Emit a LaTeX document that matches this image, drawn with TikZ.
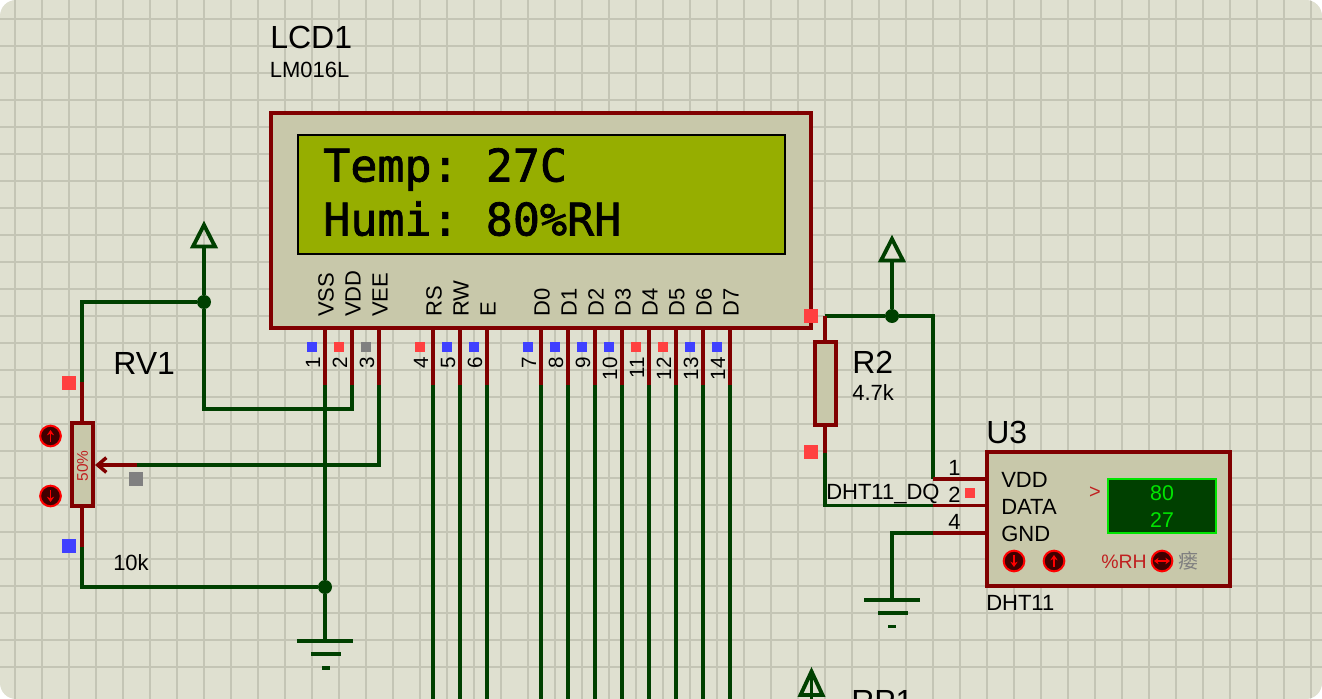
\documentclass[tikz,border=0pt]{standalone}
\usepackage{fontspec}
\setmainfont{Liberation Sans}
\newfontfamily\lcdfont[FakeBold=1.6]{DejaVu Sans Mono}
\newfontfamily\cjkfont{Noto Sans CJK SC}
\usepackage{tikz}
\usetikzlibrary{calc, positioning, arrows.meta}

\definecolor{sheet}{RGB}{223,224,208}
\definecolor{gridline}{RGB}{196,197,181}
\definecolor{wirecol}{RGB}{0,64,0}
\definecolor{pincol}{RGB}{128,0,0}
\definecolor{bodycol}{RGB}{200,200,170}
\definecolor{lcdcol}{RGB}{150,174,0}
\definecolor{knobcol}{RGB}{64,0,0}
\definecolor{redmark}{RGB}{255,64,64}
\definecolor{bluemark}{RGB}{64,64,255}
\definecolor{greymark}{RGB}{128,128,128}
\definecolor{redtext}{RGB}{192,32,32}

\begin{document}
\begin{tikzpicture}[x=0.75pt, y=-0.75pt]
    \tikzstyle{body} = [rectangle, draw=pincol, fill=bodycol, line width=3pt, inner sep=0]
    \tikzstyle{lcd_screen} = [rectangle, draw=black, fill=lcdcol, line width=2.1pt, inner sep=0]
    \tikzstyle{meter_screen} = [rectangle, draw=green!90!black, fill=wirecol, line width=2pt, inner sep=0]
    \tikzstyle{big_label} = [anchor=base west, inner sep=0, font=\fontsize{24}{28}\selectfont]
    \tikzstyle{small_label} = [anchor=base west, inner sep=0, font=\fontsize{16.5}{19}\selectfont]
    \tikzstyle{pin_name} = [rotate=90, anchor=west, inner sep=0, font=\fontsize{16.5}{19}\selectfont]
    \tikzstyle{pin_num} = [rotate=90, anchor=east, inner sep=0, font=\fontsize{15.5}{18}\selectfont]
    \tikzstyle{lcd_text} = [anchor=base west, inner sep=0, font=\lcdfont\frenchspacing\fontsize{33.75}{36}\selectfont]
    \tikzstyle{mark_blue} = [rectangle, fill=bluemark, minimum size=7.5pt, inner sep=0]
    \tikzstyle{mark_red} = [rectangle, fill=redmark, minimum size=7.5pt, inner sep=0]
    \tikzstyle{mark_grey} = [rectangle, fill=greymark, minimum size=7.5pt, inner sep=0]
    \tikzstyle{knob} = [circle, draw=red, fill=knobcol, line width=1.5pt, minimum size=15.5pt, inner sep=0]
    \tikzstyle{knob_arrow} = [draw, red, line width=1.4pt, -{Stealth[length=4pt, width=5.5pt]}]
    \tikzstyle{junction} = [circle, fill=wirecol, minimum size=10.5pt, inner sep=0]
    \tikzstyle{wire} = [draw, wirecol, line width=2.6pt, line join=miter]
    \tikzstyle{pinline} = [draw, pincol, line width=2.6pt]
    \tikzstyle{terminal} = [draw, wirecol, line width=2.9pt, line join=miter]

    \useasboundingbox (0,0) rectangle (1322,699);
    \path [fill=white] (0,0) rectangle (1322,699);
    \path [clip, rounded corners=12pt] (0,0) rectangle (1322,699);
    \path [fill=sheet] (0,0) rectangle (1322,699);

    % sheet grid
    \foreach \gx in {15,42,...,1320} \draw [gridline, line width=0.8pt] (\gx,0) -- (\gx,699);
    \foreach \gy in {19,46,...,690} \draw [gridline, line width=0.8pt] (0,\gy) -- (1322,\gy);
    \foreach \gx in {96,231,...,1320} \draw [gridline, line width=1.3pt] (\gx,0) -- (\gx,699);
    \foreach \gy in {73,208,...,690} \draw [gridline, line width=1.3pt] (0,\gy) -- (1322,\gy);

    % pin points of the display
    \coordinate (pin1) at (325,328);   \coordinate (pin1e) at (325,385);
    \coordinate (pin2) at (352,328);   \coordinate (pin2e) at (352,385);
    \coordinate (pin3) at (379,328);   \coordinate (pin3e) at (379,385);
    \coordinate (pin4) at (433,328);   \coordinate (pin4e) at (433,385);   \coordinate (pin4b) at (433,699);
    \coordinate (pin5) at (460,328);   \coordinate (pin5e) at (460,385);   \coordinate (pin5b) at (460,699);
    \coordinate (pin6) at (487,328);   \coordinate (pin6e) at (487,385);   \coordinate (pin6b) at (487,699);
    \coordinate (pin7) at (541,328);   \coordinate (pin7e) at (541,385);   \coordinate (pin7b) at (541,699);
    \coordinate (pin8) at (568,328);   \coordinate (pin8e) at (568,385);   \coordinate (pin8b) at (568,699);
    \coordinate (pin9) at (595,328);   \coordinate (pin9e) at (595,385);   \coordinate (pin9b) at (595,699);
    \coordinate (pin10) at (622,328);  \coordinate (pin10e) at (622,385);  \coordinate (pin10b) at (622,699);
    \coordinate (pin11) at (649,328);  \coordinate (pin11e) at (649,385);  \coordinate (pin11b) at (649,699);
    \coordinate (pin12) at (676,328);  \coordinate (pin12e) at (676,385);  \coordinate (pin12b) at (676,699);
    \coordinate (pin13) at (703,328);  \coordinate (pin13e) at (703,385);  \coordinate (pin13b) at (703,699);
    \coordinate (pin14) at (730,328);  \coordinate (pin14e) at (730,385);  \coordinate (pin14b) at (730,699);

    % other points of the wiring
    \coordinate (rv_top) at (82,423);
    \coordinate (rv_tope) at (82,382);
    \coordinate (rv_corner) at (82,302);
    \coordinate (rv_bot) at (82,506);
    \coordinate (rv_bote) at (82,547);
    \coordinate (rv_low) at (82,587);
    \coordinate (rv_wiper) at (95,465);
    \coordinate (rv_wipere) at (137,465);
    \coordinate (vdd_low) at (204,409);
    \coordinate (vdd_right) at (352,409);
    \coordinate (vee_low) at (379,465);
    \coordinate (power_a) at (204,246.5);
    \coordinate (power_al) at (193,246.5);
    \coordinate (power_ar) at (215,246.5);
    \coordinate (power_at) at (204,225);
    \coordinate (ground_a) at (325,641);
    \coordinate (ground_al) at (297,641);
    \coordinate (ground_ar) at (353,641);
    \coordinate (ground_bl) at (311,654);
    \coordinate (ground_br) at (341,654);
    \coordinate (ground_cl) at (322,668);
    \coordinate (ground_cr) at (330,668);
    \coordinate (r2_corner) at (825,316);
    \coordinate (r2_top) at (825,342);
    \coordinate (r2_bot) at (825,425);
    \coordinate (r2_bote) at (825,453);
    \coordinate (r2_low) at (825,505.5);
    \coordinate (power_b) at (892,260.5);
    \coordinate (power_bl) at (881,260.5);
    \coordinate (power_br) at (903,260.5);
    \coordinate (power_bt) at (892,239);
    \coordinate (vdd_corner) at (933,316);
    \coordinate (u3_p1e) at (933,479);
    \coordinate (u3_p1) at (987,479);
    \coordinate (u3_p2e) at (933,505.5);
    \coordinate (u3_p2) at (987,505.5);
    \coordinate (u3_p4e) at (933,533);
    \coordinate (u3_p4) at (987,533);
    \coordinate (gnd_corner) at (892,533);
    \coordinate (ground_d) at (892,600);
    \coordinate (ground_dl) at (864,600);
    \coordinate (ground_dr) at (920,600);
    \coordinate (ground_el) at (878,613);
    \coordinate (ground_er) at (908,613);
    \coordinate (ground_fl) at (888,626.5);
    \coordinate (ground_fr) at (896,626.5);
    \coordinate (power_c) at (811.5,699);
    \coordinate (power_cl) at (800.5,695);
    \coordinate (power_cr) at (822.5,695);
    \coordinate (power_ct) at (811.5,671.5);

    \node [junction] (junction_a) at (204,302) {};
    \node [junction] (junction_b) at (325,587) {};
    \node [junction] (junction_c) at (892,316) {};

    % wires
    \path [wire] (pin1e) -- (junction_b) -- (ground_a);
    \path [wire] (junction_b) -- (rv_low) -- (rv_bote);
    \path [wire] (pin2e) -- (vdd_right) -- (vdd_low) -- (junction_a);
    \path [wire] (junction_a) -- (rv_corner) -- (rv_tope);
    \path [wire] (junction_a) -- (power_a);
    \path [wire] (pin3e) -- (vee_low) -- (rv_wipere);
    \path [wire] (pin4e) -- (pin4b);
    \path [wire] (pin5e) -- (pin5b);
    \path [wire] (pin6e) -- (pin6b);
    \path [wire] (pin7e) -- (pin7b);
    \path [wire] (pin8e) -- (pin8b);
    \path [wire] (pin9e) -- (pin9b);
    \path [wire] (pin10e) -- (pin10b);
    \path [wire] (pin11e) -- (pin11b);
    \path [wire] (pin12e) -- (pin12b);
    \path [wire] (pin13e) -- (pin13b);
    \path [wire] (pin14e) -- (pin14b);
    \path [wire] (r2_corner) -- (junction_c) -- (vdd_corner) -- (u3_p1e);
    \path [wire] (junction_c) -- (power_b);
    \path [wire] (r2_bote) -- (r2_low) -- (u3_p2e);
    \path [wire] (u3_p4e) -- (gnd_corner) -- (ground_d);
    \path [wire] (power_c) -- (power_ct);

    % power and ground symbols
    \path [terminal] (power_al) -- (power_at) -- (power_ar) -- cycle;
    \path [terminal] (power_bl) -- (power_bt) -- (power_br) -- cycle;
    \path [terminal] (power_cl) -- (power_ct) -- (power_cr) -- cycle;
    \path [terminal] (ground_al) -- (ground_ar);
    \path [terminal] (ground_bl) -- (ground_br);
    \path [terminal] (ground_cl) -- (ground_cr);
    \path [terminal] (ground_dl) -- (ground_dr);
    \path [terminal] (ground_el) -- (ground_er);
    \path [terminal] (ground_fl) -- (ground_fr);

    % pins
    \path [pinline] (pin1) -- (pin1e);
    \path [pinline] (pin2) -- (pin2e);
    \path [pinline] (pin3) -- (pin3e);
    \path [pinline] (pin4) -- (pin4e);
    \path [pinline] (pin5) -- (pin5e);
    \path [pinline] (pin6) -- (pin6e);
    \path [pinline] (pin7) -- (pin7e);
    \path [pinline] (pin8) -- (pin8e);
    \path [pinline] (pin9) -- (pin9e);
    \path [pinline] (pin10) -- (pin10e);
    \path [pinline] (pin11) -- (pin11e);
    \path [pinline] (pin12) -- (pin12e);
    \path [pinline] (pin13) -- (pin13e);
    \path [pinline] (pin14) -- (pin14e);
    \path [pinline] (rv_top) -- (rv_tope);
    \path [pinline] (rv_bot) -- (rv_bote);
    \path [pinline] (r2_corner) -- (r2_top);
    \path [pinline] (r2_bot) -- (r2_bote);
    \path [pinline] (u3_p1e) -- (u3_p1);
    \path [pinline] (u3_p2e) -- (u3_p2);
    \path [pinline] (u3_p4e) -- (u3_p4);
    \path [pinline, -{Straight Barb[length=6.5pt, width=11pt]}] (rv_wipere) -- (rv_wiper);

    % display
    \node [body, minimum width=405pt, minimum height=161.25pt] (lcd) at (541,220.5) {};
    \node [lcd_screen, minimum width=365.25pt, minimum height=89.25pt] (screen) at (541.5,194.5) {};
    \node [lcd_text] (line_a) at (323,181.5) {Temp: 27C};
    \node [lcd_text] (line_b) at (323,235.5) {Humi: 80\%RH};
    \node [big_label] (lcd_ref) at (270,49) {LCD1};
    \node [small_label] (lcd_type) at (269.5,78) {LM016L};

    \node [pin_name] (name1) at (326,317) {VSS};
    \node [pin_name] (name2) at (353,317) {VDD};
    \node [pin_name] (name3) at (380,317) {VEE};
    \node [pin_name] (name4) at (434,317) {RS};
    \node [pin_name] (name5) at (461,317) {RW};
    \node [pin_name] (name6) at (488,317) {E};
    \node [pin_name] (name7) at (542,317) {D0};
    \node [pin_name] (name8) at (569,317) {D1};
    \node [pin_name] (name9) at (596,317) {D2};
    \node [pin_name] (name10) at (623,317) {D3};
    \node [pin_name] (name11) at (650,317) {D4};
    \node [pin_name] (name12) at (677,317) {D5};
    \node [pin_name] (name13) at (704,317) {D6};
    \node [pin_name] (name14) at (731,317) {D7};

    \node [pin_num] (num1) at (313,357) {1};
    \node [pin_num] (num2) at (340,357) {2};
    \node [pin_num] (num3) at (367,357) {3};
    \node [pin_num] (num4) at (421,357) {4};
    \node [pin_num] (num5) at (448,357) {5};
    \node [pin_num] (num6) at (475,357) {6};
    \node [pin_num] (num7) at (529,357) {7};
    \node [pin_num] (num8) at (556,357) {8};
    \node [pin_num] (num9) at (583,357) {9};
    \node [pin_num] (num10) at (610,357) {10};
    \node [pin_num] (num11) at (637,357) {11};
    \node [pin_num] (num12) at (664,357) {12};
    \node [pin_num] (num13) at (691,357) {13};
    \node [pin_num] (num14) at (718,357) {14};

    \node [mark_blue] (mark1) at (312,347) {};
    \node [mark_red] (mark2) at (339,347) {};
    \node [mark_grey] (mark3) at (366,347) {};
    \node [mark_red] (mark4) at (420,347) {};
    \node [mark_blue] (mark5) at (447,347) {};
    \node [mark_blue] (mark6) at (474,347) {};
    \node [mark_blue] (mark7) at (528,347) {};
    \node [mark_blue] (mark8) at (555,347) {};
    \node [mark_blue] (mark9) at (582,347) {};
    \node [mark_blue] (mark10) at (609,347) {};
    \node [mark_red] (mark11) at (636,347) {};
    \node [mark_red] (mark12) at (663,347) {};
    \node [mark_blue] (mark13) at (690,347) {};
    \node [mark_blue] (mark14) at (717,347) {};

    % potentiometer
    \node [body, minimum width=15.75pt, minimum height=62.25pt] (rv1) at (82.5,464.5) {};
    \node [rotate=90, inner sep=0, text=redtext, font=\fontsize{11.6}{13}\selectfont] (rv1_value) at (82.5,466) {50\%};
    \node [big_label] (rv1_ref) at (113,374) {RV1};
    \node [small_label] (rv1_type) at (113,570) {10k};
    \node [mark_red, minimum size=10pt] (rv1_marka) at (69,383) {};
    \node [mark_blue, minimum size=10pt] (rv1_markb) at (69,546) {};
    \node [mark_grey, minimum size=10pt] (rv1_markc) at (136,479) {};
    \node [knob] (rv1_up) at (50.5,436) {};
    \node [knob] (rv1_down) at (50.5,496) {};
    \path [knob_arrow] ([yshift=-4.5pt]rv1_up.center) -- ([yshift=4.5pt]rv1_up.center);
    \path [knob_arrow] ([yshift=4.5pt]rv1_down.center) -- ([yshift=-4.5pt]rv1_down.center);

    % pull-up
    \node [body, minimum width=15.75pt, minimum height=62pt] (r2) at (825,383.5) {};
    \node [big_label] (r2_ref) at (852,373) {R2};
    \node [small_label] (r2_type) at (852,400) {4.7k};
    \node [mark_red, minimum size=10pt] (r2_marka) at (811,316) {};
    \node [mark_red, minimum size=10pt] (r2_markb) at (811,452) {};
    \node [small_label] (dq_label) at (826,499) {DHT11\_DQ};

    % sensor
    \node [body, minimum width=182.25pt, minimum height=100.5pt] (u3) at (1108.5,519) {};
    \node [meter_screen, minimum width=81pt, minimum height=40.5pt] (meter) at (1162,506) {};
    \node [big_label] (u3_ref) at (986,443) {U3};
    \node [small_label] (u3_type) at (986,610) {DHT11};
    \node [small_label] (u3_vdd) at (1001,487) {VDD};
    \node [small_label] (u3_data) at (1001,514) {DATA};
    \node [small_label] (u3_gnd) at (1001,541) {GND};
    \node [small_label] (u3_num1) at (948,475) {1};
    \node [small_label] (u3_num2) at (948,502) {2};
    \node [small_label] (u3_num4) at (948,529) {4};
    \node [mark_red] (u3_mark) at (969.5,492.5) {};
    \node [inner sep=0, text=redtext, font=\fontsize{15}{17}\selectfont] (u3_more) at (1095,493) {>};
    \node [inner sep=0, text=green!90!black, font=\fontsize{16}{18}\selectfont] (u3_hum) at (1162,493) {80};
    \node [inner sep=0, text=green!90!black, font=\fontsize{16}{18}\selectfont] (u3_temp) at (1162,520) {27};
    \node [knob] (u3_down) at (1014,561) {};
    \node [knob] (u3_up) at (1054,561) {};
    \node [knob] (u3_swap) at (1162,561) {};
    \path [knob_arrow] ([yshift=4.5pt]u3_down.center) -- ([yshift=-4.5pt]u3_down.center);
    \path [knob_arrow] ([yshift=-4.5pt]u3_up.center) -- ([yshift=4.5pt]u3_up.center);
    \path [knob_arrow, {Stealth[length=3.5pt, width=5pt]}-{Stealth[length=3.5pt, width=5pt]}] ([xshift=-6pt]u3_swap.center) -- ([xshift=6pt]u3_swap.center);
    \node [anchor=base west, inner sep=0, text=redtext, font=\fontsize{14.6}{17}\selectfont] (u3_unit) at (1101,568) {\%RH};
    \node [inner sep=0, text=greymark, font=\cjkfont\fontsize{15}{17}\selectfont] (u3_glyph) at (1188,561) {瘘};

    % next part, cut by the sheet edge
    \node [big_label] (rp1_ref) at (851,712) {RP1};
\end{tikzpicture}
\end{document}
